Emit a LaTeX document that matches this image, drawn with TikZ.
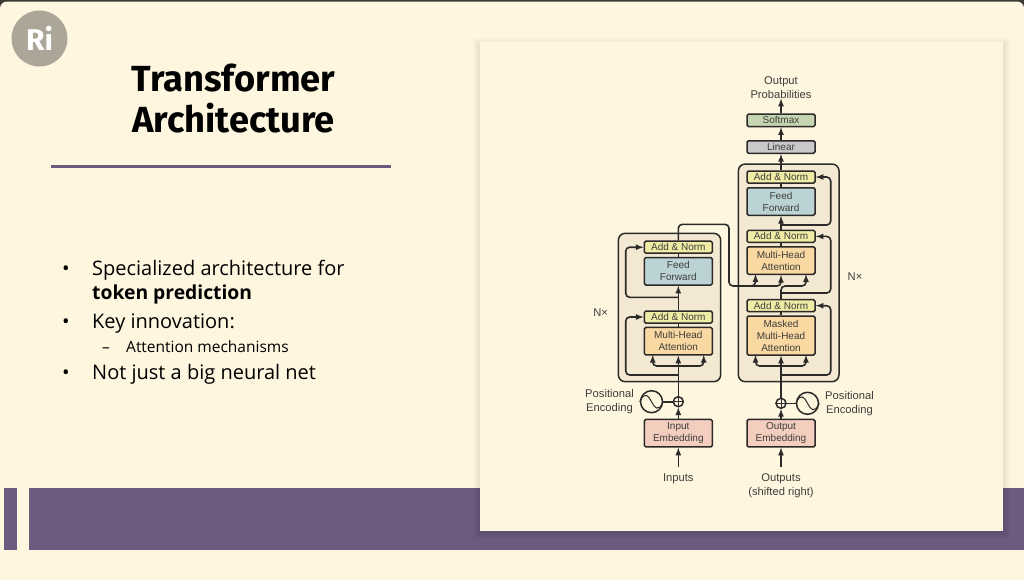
\documentclass[tikz,border=0pt]{standalone}
\usepackage{fontspec}
\setmainfont{Open Sans}
\newfontfamily\titlefont{Fira Sans}
\newfontfamily\figfont{Liberation Sans}
\usepackage{tikz}
\usetikzlibrary{calc}

\definecolor{slidebg}{HTML}{FEF6DF}
\definecolor{slideedge}{HTML}{3C3A34}
\definecolor{barpurple}{HTML}{6C5A7F}
\definecolor{logogrey}{HTML}{ACA698}
\definecolor{figink}{HTML}{2B2A28}
\definecolor{figtext}{HTML}{3E3D3A}
\definecolor{blockfill}{HTML}{F3E9D3}
\definecolor{normfill}{HTML}{F0ECA6}
\definecolor{forwardfill}{HTML}{BBD3D5}
\definecolor{attnfill}{HTML}{F9D8A2}
\definecolor{embfill}{HTML}{F3CEBF}
\definecolor{softfill}{HTML}{C6D6B2}
\definecolor{linearfill}{HTML}{CAC8CA}

\tikzset{
	figbox/.style = {draw = figink, line width = 1.5pt, rounded corners = 1.5pt, minimum width = 68pt, inner sep = 0pt, align = center, text = figtext, font = \figfont\fontsize{10}{12}\selectfont},
	normbox/.style = {figbox, fill = normfill, minimum height = 12pt},
	forwardbox/.style = {figbox, fill = forwardfill, minimum height = 27.5pt},
	attnbox/.style = {figbox, fill = attnfill, minimum height = 27.5pt},
	embbox/.style = {figbox, fill = embfill, minimum height = 27.5pt},
	figlabel/.style = {align = center, text = figtext, inner sep = 0pt, font = \figfont\fontsize{11.2}{14}\selectfont},
	conn/.style = {draw = figink, line width = 1.6pt, rounded corners = 4pt},
	bigitem/.style = {anchor = base west, inner sep = 0pt, text = black, font = \fontsize{20}{24}\selectfont},
	smallitem/.style = {anchor = base west, inner sep = 0pt, text = black, font = \fontsize{15.5}{18}\selectfont},
}

\begin{document}
\begin{tikzpicture}[x = 1pt, y = -1pt]
	\useasboundingbox (0, 0) rectangle (1024, 579);

	% slide
	\fill[slideedge] (0, 0) rectangle (1024, 579);
	\fill[slidebg, rounded corners = 7pt] (0, 1.5) rectangle (1024, 595);
	\fill[slidebg] (0, 560) rectangle (1024, 579);

	\fill[barpurple] (4, 488.3) rectangle (17, 550.3);
	\fill[barpurple] (28.7, 488.3) rectangle (1024, 550.3);

	\node[circle, fill = logogrey, minimum size = 56pt, inner sep = 0pt, text = white, font = \titlefont\bfseries\fontsize{30}{30}\selectfont] (logo) at (39.5, 38.5) {Ri};

	\node[align = center, inner sep = 0pt, text = black, font = \titlefont\bfseries\fontsize{36.3}{41}\selectfont] (title) at (233.5, 98.5) {Transformer\\Architecture};
	\fill[barpurple] (50.5, 164.8) rectangle (391, 168.1);

	% bullets
	\node[bigitem] (bulla) at (62, 275.5) {•};
	\node[bigitem] (itema) at (92, 275.5) {Specialized architecture for};
	\node[bigitem, font = \fontsize{19.3}{24}\selectfont] (itemb) at (92, 299.5) {\bfseries token prediction};
	\node[bigitem] (bullb) at (62, 328.5) {•};
	\node[bigitem] (itemc) at (92, 328.5) {Key innovation:};
	\node[smallitem] (dash) at (102, 352) {–};
	\node[smallitem] (itemd) at (126, 352) {Attention mechanisms};
	\node[bigitem] (bullc) at (62, 379.5) {•};
	\node[bigitem] (iteme) at (92, 379.5) {Not just a big neural net};

	% panel
	\foreach \s in {1, 2, ..., 7}{
		\fill[black, opacity = 0.012] (480 - \s, 42 - \s + 3) rectangle (1003 + \s, 531 + \s + 1);
	}
	\fill[slidebg] (480, 42) rectangle (1003, 531);

	% stacks
	\draw[figink, fill = blockfill, line width = 1.5pt, rounded corners = 7pt] (618.3, 233.3) rectangle (720.7, 381.7);
	\draw[figink, fill = blockfill, line width = 1.5pt, rounded corners = 7pt] (738.3, 164) rectangle (839, 381.7);

	% encoder
	\node[embbox] (inemb) at (678.3, 433.2) {Input\\Embedding};
	\node[attnbox] (encma) at (678.3, 341.2) {Multi-Head\\Attention};
	\node[normbox] (encant) at (678.3, 317) {Add \& Norm};
	\node[forwardbox] (encff) at (678.3, 271.3) {Feed\\Forward};
	\node[normbox] (encanb) at (678.3, 247.2) {Add \& Norm};

	% decoder
	\node[embbox] (outemb) at (781, 433.2) {Output\\Embedding};
	\node[attnbox, minimum height = 39pt] (decmm) at (781, 335.5) {Masked\\Multi-Head\\Attention};
	\node[normbox] (decana) at (781, 305.7) {Add \& Norm};
	\node[attnbox] (decma) at (781, 260.5) {Multi-Head\\Attention};
	\node[normbox] (decanb) at (781, 236.4) {Add \& Norm};
	\node[forwardbox] (decff) at (781, 201.5) {Feed\\Forward};
	\node[normbox] (decanc) at (781, 177) {Add \& Norm};
	\node[figbox, fill = linearfill, minimum height = 12.5pt] (lin) at (781, 147) {Linear};
	\node[figbox, fill = softfill, minimum height = 12.5pt] (soft) at (781, 120.3) {Softmax};

	% positional encoding
	\node[circle, draw = figink, line width = 1.5pt, minimum size = 10pt, inner sep = 0pt] (encplus) at (678.3, 401.7) {};
	\node[circle, draw = figink, line width = 1.5pt, minimum size = 22pt, inner sep = 0pt] (encsin) at (651.5, 401.7) {};
	\node[circle, draw = figink, line width = 1.5pt, minimum size = 10pt, inner sep = 0pt] (decplus) at (781, 403.3) {};
	\node[circle, draw = figink, line width = 1.5pt, minimum size = 22pt, inner sep = 0pt] (decsin) at (807.5, 403.3) {};

	\draw[figink, line width = 1pt] (encplus.north)--(encplus.south) (encplus.west)--(encplus.east);
	\draw[figink, line width = 1pt] (decplus.north)--(decplus.south) (decplus.west)--(decplus.east);
	\draw[figink, line width = 1pt] (encsin.west) .. controls +(5, -11) and +(-3, -6) .. (encsin.center) .. controls +(3, 6) and +(-5, 11) .. (encsin.east);
	\draw[figink, line width = 1pt] (decsin.west) .. controls +(5, -11) and +(-3, -6) .. (decsin.center) .. controls +(3, 6) and +(-5, 11) .. (decsin.east);
	\draw[conn] (encsin)--(encplus);
	\draw[conn] (decsin)--(decplus);

	% labels
	\node[figlabel] (outprob) at (781, 87.5) {Output\\Probabilities};
	\node[figlabel] (inlabel) at (678.3, 478.5) {Inputs};
	\node[figlabel] (outlabel) at (781, 485.5) {Outputs\\(shifted right)};
	\node[figlabel] (encpos) at (609.5, 401.5) {Positional\\Encoding};
	\node[figlabel] (decpos) at (849.5, 403.8) {Positional\\Encoding};
	\node[figlabel] (encn) at (600.7, 312.7) {N×};
	\node[figlabel] (decn) at (855, 277) {N×};

	% junctions
	\coordinate[](intail) at (678.3, 466.7);
	\coordinate[](outtail) at (781, 466.7);
	\coordinate[](encbr) at (678.3, 366);
	\coordinate[](enckey) at (652.7, 355);
	\coordinate[](encval) at (703.7, 355);
	\coordinate[](encja) at (678.3, 375);
	\coordinate[](encraila) at (625.7, 317);
	\coordinate[](encjb) at (678.3, 297.3);
	\coordinate[](encrailb) at (625.7, 247.2);
	\coordinate[](crossb) at (729, 224.3);
	\coordinate[](crossc) at (762, 286);
	\coordinate[](crossd) at (742, 286);
	\coordinate[](deckeyb) at (755.5, 274.3);
	\coordinate[](decvalb) at (806, 274.3);
	\coordinate[](decc) at (792, 286);
	\coordinate[](decjb) at (781, 293);
	\coordinate[](decrailb) at (830.7, 236.4);
	\coordinate[](decjc) at (781, 225);
	\coordinate[](decrailc) at (830.7, 177);
	\coordinate[](decbr) at (781, 366);
	\coordinate[](deckey) at (755.5, 355);
	\coordinate[](decval) at (806, 355);
	\coordinate[](decja) at (781, 375);
	\coordinate[](decraila) at (830.7, 305.7);

	% encoder lines
	\draw[conn, -latex] (intail)--(inemb.south);
	\draw[conn, -latex] (inemb.north)--(encplus.south);
	\draw[conn, -latex] (encplus.north)--(encma.south);
	\draw[conn, latex-latex] (enckey) |- (encbr) -| (encval);
	\draw[conn, -latex] (encja) -| (encraila)--(encant.west);
	\draw[conn] (encma.north)--(encant.south);
	\draw[conn, -latex] (encant.north)--(encff.south);
	\draw[conn, -latex] (encjb) -| (encrailb)--(encanb.west);
	\draw[conn] (encff.north)--(encanb.south);

	% from encoder to decoder
	\draw[conn, -latex] (encanb.north) |- (crossb) |- (crossc) -| (decma.south);
	\draw[conn, -latex] (crossd) -| (deckeyb);

	% decoder lines
	\draw[conn, -latex] (outtail)--(outemb.south);
	\draw[conn, -latex] (outemb.north)--(decplus.south);
	\draw[conn, -latex] (decplus.north)--(decmm.south);
	\draw[conn, latex-latex] (deckey) |- (decbr) -| (decval);
	\draw[conn, -latex] (decja) -| (decraila)--(decana.east);
	\draw[conn] (decmm.north)--(decana.south);
	\draw[conn, -latex] (decana.north) |- (decc) -| (decvalb);
	\draw[conn, -latex] (decjb) -| (decrailb)--(decanb.east);
	\draw[conn] (decma.north)--(decanb.south);
	\draw[conn, -latex] (decanb.north)--(decff.south);
	\draw[conn, -latex] (decjc) -| (decrailc)--(decanc.east);
	\draw[conn] (decff.north)--(decanc.south);
	\draw[conn, -latex] (decanc.north)--(lin.south);
	\draw[conn, -latex] (lin.north)--(soft.south);
	\draw[conn, -latex] (soft.north)--(outprob.south);
\end{tikzpicture}
\end{document}
